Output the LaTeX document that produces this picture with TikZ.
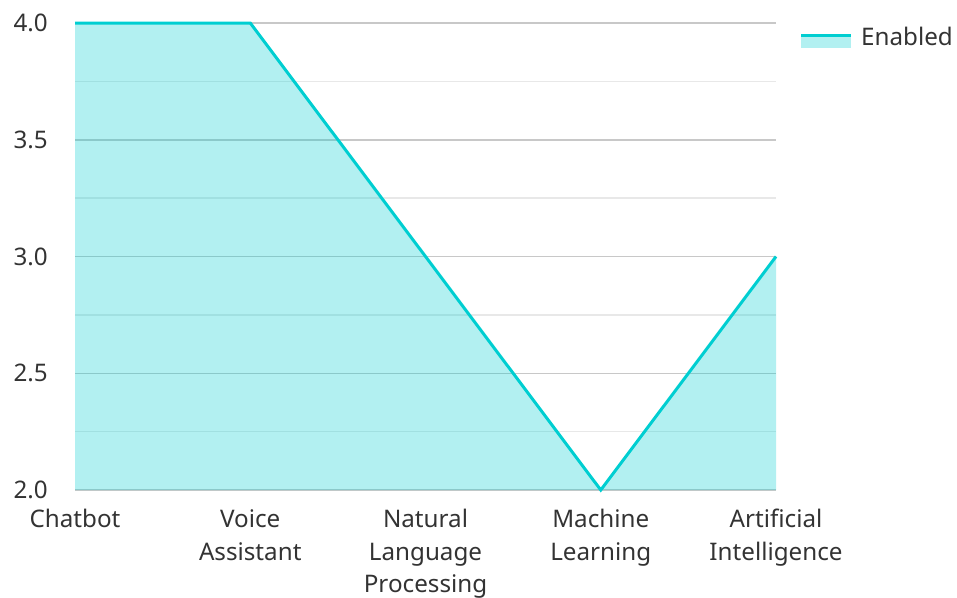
\documentclass[tikz,border=0pt]{standalone}
\usepackage{fontspec}
\setmainfont{Noto Sans}
\definecolor{lineC}{HTML}{00CED1}
\definecolor{majorG}{HTML}{C8C8C8}
\definecolor{minorG}{HTML}{E8E8E8}
\definecolor{txt}{HTML}{333333}
\begin{document}
\begin{tikzpicture}[x=1pt,y=-1pt,
  lbl/.style={font=\fontsize{24.2}{32.5}\selectfont,text=txt,inner sep=0pt},
  xlbl/.style={lbl,anchor=north,align=center},
  majorline/.style={draw=majorG,line width=1.5pt},
  minorline/.style={draw=minorG,line width=1.5pt},
  dataline/.style={draw=lineC,line width=3pt,line join=miter},
  datafill/.style={fill=lineC,fill opacity=0.3}]
\useasboundingbox (0,0) rectangle (957,597);
% grid
\foreach \i in {0,2,4,6,8} {\draw[majorline] (75,{23+58.375*\i}) -- (776,{23+58.375*\i});}
\foreach \i in {1,3,5,7} {\draw[minorline] (75,{23+58.375*\i}) -- (776,{23+58.375*\i});}
% data coords
\coordinate (p1) at (75,23);
\coordinate (p2) at (250.25,23);
\coordinate (p3) at (425.5,256.5);
\coordinate (p4) at (600.75,490);
\coordinate (p5) at (776,256.5);
\coordinate (b1) at (75,490);
\coordinate (b5) at (776,490);
\fill[datafill] (b1) -- (p1) -- (p2) -- (p3) -- (p4) -- (p5) -- (b5) -- cycle;
\draw[dataline] (p1) -- (p2) -- (p3) -- (p4) -- (p5);
% y labels
\node[lbl,anchor=east] (y40) at (48,23) {4.0};
\node[lbl,anchor=east] (y35) at (48,139.75) {3.5};
\node[lbl,anchor=east] (y30) at (48,256.5) {3.0};
\node[lbl,anchor=east] (y25) at (48,373.25) {2.5};
\node[lbl,anchor=east] (y20) at (48,490) {2.0};
% x labels
\node[xlbl] (x1) at (75,509) {\vphantom{h}Chatbot};
\node[xlbl] (x2) at (250.25,509) {\vphantom{h}Voice\\Assistant};
\node[xlbl] (x3) at (425.5,509) {\vphantom{h}Natural\\Language\\Processing};
\node[xlbl] (x4) at (600.75,509) {\vphantom{h}Machine\\Learning};
\node[xlbl] (x5) at (776,509) {\vphantom{h}Artificial\\Intelligence};
% legend
\fill[datafill] (801,35) rectangle (851,47.5);
\draw[draw=lineC,line width=3pt] (801,35) -- (851,35);
\node[lbl,anchor=west] (leg) at (861,36) {Enabled};
\end{tikzpicture}
\end{document}
